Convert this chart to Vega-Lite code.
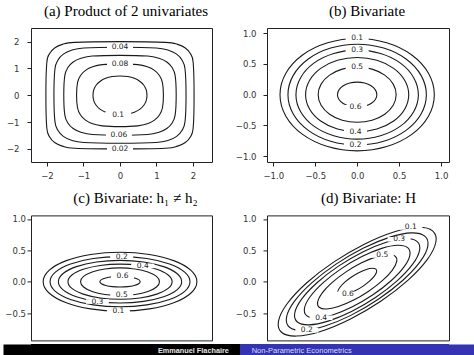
{
"$schema":"https://vega.github.io/schema/vega-lite/v6.json",
"autosize":{"type":"pad"},
"padding":{"left":0,"top":3,"right":0,"bottom":0},
"background":"white",
"config":{
 "view":{"stroke":"#222","strokeWidth":1},
 "axis":{"grid":false,"domain":false,"ticks":true,"tickSize":4,"tickColor":"#222","tickWidth":1,"labelFont":"DejaVu Sans","labelFontSize":8.5,"labelColor":"#333","labelFlush":false,"labelOverlap":false,"labelBound":false},
 "axisX":{"labelPadding":5},
 "axisY":{"labelPadding":7,"minExtent":0},
 "title":{"font":"Liberation Serif","fontSize":15,"fontWeight":"normal","color":"#000","anchor":"middle","frame":"group","baseline":"alphabetic","offset":9}
},
"datasets":{
"ca":[
{"c":"0.02","o":0,"x":2.03,"y":0},{"c":"0.02","o":1,"x":2.005,"y":1.223},{"c":"0.02","o":2,"x":1.927,"y":1.555},{"c":"0.02","o":3,"x":1.79,"y":1.763},{"c":"0.02","o":4,"x":1.578,"y":1.898},{"c":"0.02","o":5,"x":1.242,"y":1.975},{"c":"0.02","o":6,"x":0,"y":2.0},{"c":"0.02","o":7,"x":-1.242,"y":1.975},{"c":"0.02","o":8,"x":-1.578,"y":1.898},{"c":"0.02","o":9,"x":-1.79,"y":1.763},{"c":"0.02","o":10,"x":-1.927,"y":1.555},{"c":"0.02","o":11,"x":-2.005,"y":1.223},{"c":"0.02","o":12,"x":-2.03,"y":0},{"c":"0.02","o":13,"x":-2.005,"y":-1.223},{"c":"0.02","o":14,"x":-1.927,"y":-1.555},{"c":"0.02","o":15,"x":-1.79,"y":-1.763},{"c":"0.02","o":16,"x":-1.578,"y":-1.898},{"c":"0.02","o":17,"x":-1.242,"y":-1.975},{"c":"0.02","o":18,"x":0,"y":-2.0},{"c":"0.02","o":19,"x":1.242,"y":-1.975},{"c":"0.02","o":20,"x":1.578,"y":-1.898},{"c":"0.02","o":21,"x":1.79,"y":-1.763},{"c":"0.02","o":22,"x":1.927,"y":-1.555},{"c":"0.02","o":23,"x":2.005,"y":-1.223},
{"c":"0.04","o":0,"x":1.81,"y":0},{"c":"0.04","o":1,"x":1.782,"y":0.982},{"c":"0.04","o":2,"x":1.698,"y":1.315},{"c":"0.04","o":3,"x":1.552,"y":1.534},{"c":"0.04","o":4,"x":1.33,"y":1.679},{"c":"0.04","o":5,"x":0.993,"y":1.763},{"c":"0.04","o":6,"x":0,"y":1.79},{"c":"0.04","o":7,"x":-0.993,"y":1.763},{"c":"0.04","o":8,"x":-1.33,"y":1.679},{"c":"0.04","o":9,"x":-1.552,"y":1.534},{"c":"0.04","o":10,"x":-1.698,"y":1.315},{"c":"0.04","o":11,"x":-1.782,"y":0.982},{"c":"0.04","o":12,"x":-1.81,"y":0},{"c":"0.04","o":13,"x":-1.782,"y":-0.982},{"c":"0.04","o":14,"x":-1.698,"y":-1.315},{"c":"0.04","o":15,"x":-1.552,"y":-1.534},{"c":"0.04","o":16,"x":-1.33,"y":-1.679},{"c":"0.04","o":17,"x":-0.993,"y":-1.763},{"c":"0.04","o":18,"x":0,"y":-1.79},{"c":"0.04","o":19,"x":0.993,"y":-1.763},{"c":"0.04","o":20,"x":1.33,"y":-1.679},{"c":"0.04","o":21,"x":1.552,"y":-1.534},{"c":"0.04","o":22,"x":1.698,"y":-1.315},{"c":"0.04","o":23,"x":1.782,"y":-0.982},
{"c":"0.06","o":0,"x":1.54,"y":0},{"c":"0.06","o":1,"x":1.512,"y":0.732},{"c":"0.06","o":2,"x":1.428,"y":1.034},{"c":"0.06","o":3,"x":1.283,"y":1.242},{"c":"0.06","o":4,"x":1.069,"y":1.381},{"c":"0.06","o":5,"x":0.756,"y":1.463},{"c":"0.06","o":6,"x":0,"y":1.49},{"c":"0.06","o":7,"x":-0.756,"y":1.463},{"c":"0.06","o":8,"x":-1.069,"y":1.381},{"c":"0.06","o":9,"x":-1.283,"y":1.242},{"c":"0.06","o":10,"x":-1.428,"y":1.034},{"c":"0.06","o":11,"x":-1.512,"y":0.732},{"c":"0.06","o":12,"x":-1.54,"y":0},{"c":"0.06","o":13,"x":-1.512,"y":-0.732},{"c":"0.06","o":14,"x":-1.428,"y":-1.034},{"c":"0.06","o":15,"x":-1.283,"y":-1.242},{"c":"0.06","o":16,"x":-1.069,"y":-1.381},{"c":"0.06","o":17,"x":-0.756,"y":-1.463},{"c":"0.06","o":18,"x":0,"y":-1.49},{"c":"0.06","o":19,"x":0.756,"y":-1.463},{"c":"0.06","o":20,"x":1.069,"y":-1.381},{"c":"0.06","o":21,"x":1.283,"y":-1.242},{"c":"0.06","o":22,"x":1.428,"y":-1.034},{"c":"0.06","o":23,"x":1.512,"y":-0.732},
{"c":"0.08","o":0,"x":1.19,"y":0},{"c":"0.08","o":1,"x":1.163,"y":0.475},{"c":"0.08","o":2,"x":1.081,"y":0.737},{"c":"0.08","o":3,"x":0.945,"y":0.929},{"c":"0.08","o":4,"x":0.75,"y":1.063},{"c":"0.08","o":5,"x":0.483,"y":1.143},{"c":"0.08","o":6,"x":0,"y":1.17},{"c":"0.08","o":7,"x":-0.483,"y":1.143},{"c":"0.08","o":8,"x":-0.75,"y":1.063},{"c":"0.08","o":9,"x":-0.945,"y":0.929},{"c":"0.08","o":10,"x":-1.081,"y":0.737},{"c":"0.08","o":11,"x":-1.163,"y":0.475},{"c":"0.08","o":12,"x":-1.19,"y":0},{"c":"0.08","o":13,"x":-1.163,"y":-0.475},{"c":"0.08","o":14,"x":-1.081,"y":-0.737},{"c":"0.08","o":15,"x":-0.945,"y":-0.929},{"c":"0.08","o":16,"x":-0.75,"y":-1.063},{"c":"0.08","o":17,"x":-0.483,"y":-1.143},{"c":"0.08","o":18,"x":0,"y":-1.17},{"c":"0.08","o":19,"x":0.483,"y":-1.143},{"c":"0.08","o":20,"x":0.75,"y":-1.063},{"c":"0.08","o":21,"x":0.945,"y":-0.929},{"c":"0.08","o":22,"x":1.081,"y":-0.737},{"c":"0.08","o":23,"x":1.163,"y":-0.475},
{"c":"0.1","o":0,"x":0.74,"y":0},{"c":"0.1","o":1,"x":0.717,"y":0.211},{"c":"0.1","o":2,"x":0.649,"y":0.383},{"c":"0.1","o":3,"x":0.54,"y":0.525},{"c":"0.1","o":4,"x":0.394,"y":0.632},{"c":"0.1","o":5,"x":0.217,"y":0.698},{"c":"0.1","o":6,"x":0,"y":0.72},{"c":"0.1","o":7,"x":-0.217,"y":0.698},{"c":"0.1","o":8,"x":-0.394,"y":0.632},{"c":"0.1","o":9,"x":-0.54,"y":0.525},{"c":"0.1","o":10,"x":-0.649,"y":0.383},{"c":"0.1","o":11,"x":-0.717,"y":0.211},{"c":"0.1","o":12,"x":-0.74,"y":0},{"c":"0.1","o":13,"x":-0.717,"y":-0.211},{"c":"0.1","o":14,"x":-0.649,"y":-0.383},{"c":"0.1","o":15,"x":-0.54,"y":-0.525},{"c":"0.1","o":16,"x":-0.394,"y":-0.632},{"c":"0.1","o":17,"x":-0.217,"y":-0.698},{"c":"0.1","o":18,"x":0,"y":-0.72},{"c":"0.1","o":19,"x":0.217,"y":-0.698},{"c":"0.1","o":20,"x":0.394,"y":-0.632},{"c":"0.1","o":21,"x":0.54,"y":-0.525},{"c":"0.1","o":22,"x":0.649,"y":-0.383},{"c":"0.1","o":23,"x":0.717,"y":-0.211}
],
"cb":[
{"c":"0.1","o":0,"x":0.92,"y":0},{"c":"0.1","o":1,"x":0.85,"y":0.35},{"c":"0.1","o":2,"x":0.651,"y":0.647},{"c":"0.1","o":3,"x":0.352,"y":0.845},{"c":"0.1","o":4,"x":0,"y":0.915},{"c":"0.1","o":5,"x":-0.352,"y":0.845},{"c":"0.1","o":6,"x":-0.651,"y":0.647},{"c":"0.1","o":7,"x":-0.85,"y":0.35},{"c":"0.1","o":8,"x":-0.92,"y":0},{"c":"0.1","o":9,"x":-0.85,"y":-0.35},{"c":"0.1","o":10,"x":-0.651,"y":-0.647},{"c":"0.1","o":11,"x":-0.352,"y":-0.845},{"c":"0.1","o":12,"x":0,"y":-0.915},{"c":"0.1","o":13,"x":0.352,"y":-0.845},{"c":"0.1","o":14,"x":0.651,"y":-0.647},{"c":"0.1","o":15,"x":0.85,"y":-0.35},
{"c":"0.2","o":0,"x":0.825,"y":0},{"c":"0.2","o":1,"x":0.762,"y":0.314},{"c":"0.2","o":2,"x":0.583,"y":0.581},{"c":"0.2","o":3,"x":0.316,"y":0.759},{"c":"0.2","o":4,"x":0,"y":0.821},{"c":"0.2","o":5,"x":-0.316,"y":0.759},{"c":"0.2","o":6,"x":-0.583,"y":0.581},{"c":"0.2","o":7,"x":-0.762,"y":0.314},{"c":"0.2","o":8,"x":-0.825,"y":0},{"c":"0.2","o":9,"x":-0.762,"y":-0.314},{"c":"0.2","o":10,"x":-0.583,"y":-0.581},{"c":"0.2","o":11,"x":-0.316,"y":-0.759},{"c":"0.2","o":12,"x":0,"y":-0.821},{"c":"0.2","o":13,"x":0.316,"y":-0.759},{"c":"0.2","o":14,"x":0.583,"y":-0.581},{"c":"0.2","o":15,"x":0.762,"y":-0.314},
{"c":"0.3","o":0,"x":0.73,"y":0},{"c":"0.3","o":1,"x":0.674,"y":0.277},{"c":"0.3","o":2,"x":0.516,"y":0.513},{"c":"0.3","o":3,"x":0.279,"y":0.67},{"c":"0.3","o":4,"x":0,"y":0.725},{"c":"0.3","o":5,"x":-0.279,"y":0.67},{"c":"0.3","o":6,"x":-0.516,"y":0.513},{"c":"0.3","o":7,"x":-0.674,"y":0.277},{"c":"0.3","o":8,"x":-0.73,"y":0},{"c":"0.3","o":9,"x":-0.674,"y":-0.277},{"c":"0.3","o":10,"x":-0.516,"y":-0.513},{"c":"0.3","o":11,"x":-0.279,"y":-0.67},{"c":"0.3","o":12,"x":0,"y":-0.725},{"c":"0.3","o":13,"x":0.279,"y":-0.67},{"c":"0.3","o":14,"x":0.516,"y":-0.513},{"c":"0.3","o":15,"x":0.674,"y":-0.277},
{"c":"0.4","o":0,"x":0.615,"y":0},{"c":"0.4","o":1,"x":0.568,"y":0.232},{"c":"0.4","o":2,"x":0.435,"y":0.429},{"c":"0.4","o":3,"x":0.235,"y":0.56},{"c":"0.4","o":4,"x":0,"y":0.606},{"c":"0.4","o":5,"x":-0.235,"y":0.56},{"c":"0.4","o":6,"x":-0.435,"y":0.429},{"c":"0.4","o":7,"x":-0.568,"y":0.232},{"c":"0.4","o":8,"x":-0.615,"y":0},{"c":"0.4","o":9,"x":-0.568,"y":-0.232},{"c":"0.4","o":10,"x":-0.435,"y":-0.429},{"c":"0.4","o":11,"x":-0.235,"y":-0.56},{"c":"0.4","o":12,"x":0,"y":-0.606},{"c":"0.4","o":13,"x":0.235,"y":-0.56},{"c":"0.4","o":14,"x":0.435,"y":-0.429},{"c":"0.4","o":15,"x":0.568,"y":-0.232},
{"c":"0.5","o":0,"x":0.465,"y":0},{"c":"0.5","o":1,"x":0.43,"y":0.172},{"c":"0.5","o":2,"x":0.329,"y":0.318},{"c":"0.5","o":3,"x":0.178,"y":0.416},{"c":"0.5","o":4,"x":0,"y":0.45},{"c":"0.5","o":5,"x":-0.178,"y":0.416},{"c":"0.5","o":6,"x":-0.329,"y":0.318},{"c":"0.5","o":7,"x":-0.43,"y":0.172},{"c":"0.5","o":8,"x":-0.465,"y":0},{"c":"0.5","o":9,"x":-0.43,"y":-0.172},{"c":"0.5","o":10,"x":-0.329,"y":-0.318},{"c":"0.5","o":11,"x":-0.178,"y":-0.416},{"c":"0.5","o":12,"x":0,"y":-0.45},{"c":"0.5","o":13,"x":0.178,"y":-0.416},{"c":"0.5","o":14,"x":0.329,"y":-0.318},{"c":"0.5","o":15,"x":0.43,"y":-0.172},
{"c":"0.6","o":0,"x":0.235,"y":0},{"c":"0.6","o":1,"x":0.217,"y":0.078},{"c":"0.6","o":2,"x":0.166,"y":0.145},{"c":"0.6","o":3,"x":0.09,"y":0.189},{"c":"0.6","o":4,"x":0,"y":0.205},{"c":"0.6","o":5,"x":-0.09,"y":0.189},{"c":"0.6","o":6,"x":-0.166,"y":0.145},{"c":"0.6","o":7,"x":-0.217,"y":0.078},{"c":"0.6","o":8,"x":-0.235,"y":0},{"c":"0.6","o":9,"x":-0.217,"y":-0.078},{"c":"0.6","o":10,"x":-0.166,"y":-0.145},{"c":"0.6","o":11,"x":-0.09,"y":-0.189},{"c":"0.6","o":12,"x":0,"y":-0.205},{"c":"0.6","o":13,"x":0.09,"y":-0.189},{"c":"0.6","o":14,"x":0.166,"y":-0.145},{"c":"0.6","o":15,"x":0.217,"y":-0.078}
],
"cc":[
{"c":"0.1","o":0,"x":0.915,"y":0},{"c":"0.1","o":1,"x":0.845,"y":0.18},{"c":"0.1","o":2,"x":0.647,"y":0.332},{"c":"0.1","o":3,"x":0.35,"y":0.434},{"c":"0.1","o":4,"x":0,"y":0.47},{"c":"0.1","o":5,"x":-0.35,"y":0.434},{"c":"0.1","o":6,"x":-0.647,"y":0.332},{"c":"0.1","o":7,"x":-0.845,"y":0.18},{"c":"0.1","o":8,"x":-0.915,"y":0},{"c":"0.1","o":9,"x":-0.845,"y":-0.18},{"c":"0.1","o":10,"x":-0.647,"y":-0.332},{"c":"0.1","o":11,"x":-0.35,"y":-0.434},{"c":"0.1","o":12,"x":0,"y":-0.47},{"c":"0.1","o":13,"x":0.35,"y":-0.434},{"c":"0.1","o":14,"x":0.647,"y":-0.332},{"c":"0.1","o":15,"x":0.845,"y":-0.18},
{"c":"0.2","o":0,"x":0.833,"y":0},{"c":"0.2","o":1,"x":0.77,"y":0.153},{"c":"0.2","o":2,"x":0.589,"y":0.283},{"c":"0.2","o":3,"x":0.319,"y":0.37},{"c":"0.2","o":4,"x":0,"y":0.4},{"c":"0.2","o":5,"x":-0.319,"y":0.37},{"c":"0.2","o":6,"x":-0.589,"y":0.283},{"c":"0.2","o":7,"x":-0.77,"y":0.153},{"c":"0.2","o":8,"x":-0.833,"y":0},{"c":"0.2","o":9,"x":-0.77,"y":-0.153},{"c":"0.2","o":10,"x":-0.589,"y":-0.283},{"c":"0.2","o":11,"x":-0.319,"y":-0.37},{"c":"0.2","o":12,"x":0,"y":-0.4},{"c":"0.2","o":13,"x":0.319,"y":-0.37},{"c":"0.2","o":14,"x":0.589,"y":-0.283},{"c":"0.2","o":15,"x":0.77,"y":-0.153},
{"c":"0.3","o":0,"x":0.734,"y":0},{"c":"0.3","o":1,"x":0.678,"y":0.13},{"c":"0.3","o":2,"x":0.519,"y":0.24},{"c":"0.3","o":3,"x":0.281,"y":0.314},{"c":"0.3","o":4,"x":0,"y":0.34},{"c":"0.3","o":5,"x":-0.281,"y":0.314},{"c":"0.3","o":6,"x":-0.519,"y":0.24},{"c":"0.3","o":7,"x":-0.678,"y":0.13},{"c":"0.3","o":8,"x":-0.734,"y":0},{"c":"0.3","o":9,"x":-0.678,"y":-0.13},{"c":"0.3","o":10,"x":-0.519,"y":-0.24},{"c":"0.3","o":11,"x":-0.281,"y":-0.314},{"c":"0.3","o":12,"x":0,"y":-0.34},{"c":"0.3","o":13,"x":0.281,"y":-0.314},{"c":"0.3","o":14,"x":0.519,"y":-0.24},{"c":"0.3","o":15,"x":0.678,"y":-0.13},
{"c":"0.4","o":0,"x":0.62,"y":0},{"c":"0.4","o":1,"x":0.573,"y":0.107},{"c":"0.4","o":2,"x":0.438,"y":0.198},{"c":"0.4","o":3,"x":0.237,"y":0.259},{"c":"0.4","o":4,"x":0,"y":0.28},{"c":"0.4","o":5,"x":-0.237,"y":0.259},{"c":"0.4","o":6,"x":-0.438,"y":0.198},{"c":"0.4","o":7,"x":-0.573,"y":0.107},{"c":"0.4","o":8,"x":-0.62,"y":0},{"c":"0.4","o":9,"x":-0.573,"y":-0.107},{"c":"0.4","o":10,"x":-0.438,"y":-0.198},{"c":"0.4","o":11,"x":-0.237,"y":-0.259},{"c":"0.4","o":12,"x":0,"y":-0.28},{"c":"0.4","o":13,"x":0.237,"y":-0.259},{"c":"0.4","o":14,"x":0.438,"y":-0.198},{"c":"0.4","o":15,"x":0.573,"y":-0.107},
{"c":"0.5","o":0,"x":0.47,"y":0},{"c":"0.5","o":1,"x":0.434,"y":0.084},{"c":"0.5","o":2,"x":0.332,"y":0.156},{"c":"0.5","o":3,"x":0.18,"y":0.203},{"c":"0.5","o":4,"x":0,"y":0.22},{"c":"0.5","o":5,"x":-0.18,"y":0.203},{"c":"0.5","o":6,"x":-0.332,"y":0.156},{"c":"0.5","o":7,"x":-0.434,"y":0.084},{"c":"0.5","o":8,"x":-0.47,"y":0},{"c":"0.5","o":9,"x":-0.434,"y":-0.084},{"c":"0.5","o":10,"x":-0.332,"y":-0.156},{"c":"0.5","o":11,"x":-0.18,"y":-0.203},{"c":"0.5","o":12,"x":0,"y":-0.22},{"c":"0.5","o":13,"x":0.18,"y":-0.203},{"c":"0.5","o":14,"x":0.332,"y":-0.156},{"c":"0.5","o":15,"x":0.434,"y":-0.084},
{"c":"0.6","o":0,"x":0.24,"y":0},{"c":"0.6","o":1,"x":0.222,"y":0.033},{"c":"0.6","o":2,"x":0.17,"y":0.06},{"c":"0.6","o":3,"x":0.092,"y":0.079},{"c":"0.6","o":4,"x":0,"y":0.085},{"c":"0.6","o":5,"x":-0.092,"y":0.079},{"c":"0.6","o":6,"x":-0.17,"y":0.06},{"c":"0.6","o":7,"x":-0.222,"y":0.033},{"c":"0.6","o":8,"x":-0.24,"y":0},{"c":"0.6","o":9,"x":-0.222,"y":-0.033},{"c":"0.6","o":10,"x":-0.17,"y":-0.06},{"c":"0.6","o":11,"x":-0.092,"y":-0.079},{"c":"0.6","o":12,"x":0,"y":-0.085},{"c":"0.6","o":13,"x":0.092,"y":-0.079},{"c":"0.6","o":14,"x":0.17,"y":-0.06},{"c":"0.6","o":15,"x":0.222,"y":-0.033}
],
"cd":[
{"c":"0.1","o":0,"x":0.899,"y":0.81},{"c":"0.1","o":1,"x":0.723,"y":0.867},{"c":"0.1","o":2,"x":0.437,"y":0.793},{"c":"0.1","o":3,"x":0.085,"y":0.598},{"c":"0.1","o":4,"x":-0.281,"y":0.312},{"c":"0.1","o":5,"x":-0.604,"y":-0.021},{"c":"0.1","o":6,"x":-0.835,"y":-0.352},{"c":"0.1","o":7,"x":-0.938,"y":-0.629},{"c":"0.1","o":8,"x":-0.899,"y":-0.81},{"c":"0.1","o":9,"x":-0.723,"y":-0.867},{"c":"0.1","o":10,"x":-0.437,"y":-0.793},{"c":"0.1","o":11,"x":-0.085,"y":-0.598},{"c":"0.1","o":12,"x":0.281,"y":-0.312},{"c":"0.1","o":13,"x":0.604,"y":0.021},{"c":"0.1","o":14,"x":0.835,"y":0.352},{"c":"0.1","o":15,"x":0.938,"y":0.629},
{"c":"0.2","o":0,"x":0.806,"y":0.726},{"c":"0.2","o":1,"x":0.648,"y":0.778},{"c":"0.2","o":2,"x":0.392,"y":0.711},{"c":"0.2","o":3,"x":0.076,"y":0.537},{"c":"0.2","o":4,"x":-0.252,"y":0.28},{"c":"0.2","o":5,"x":-0.542,"y":-0.019},{"c":"0.2","o":6,"x":-0.749,"y":-0.315},{"c":"0.2","o":7,"x":-0.842,"y":-0.564},{"c":"0.2","o":8,"x":-0.806,"y":-0.726},{"c":"0.2","o":9,"x":-0.648,"y":-0.778},{"c":"0.2","o":10,"x":-0.392,"y":-0.711},{"c":"0.2","o":11,"x":-0.076,"y":-0.537},{"c":"0.2","o":12,"x":0.252,"y":-0.28},{"c":"0.2","o":13,"x":0.542,"y":0.019},{"c":"0.2","o":14,"x":0.749,"y":0.315},{"c":"0.2","o":15,"x":0.842,"y":0.564},
{"c":"0.3","o":0,"x":0.713,"y":0.642},{"c":"0.3","o":1,"x":0.574,"y":0.688},{"c":"0.3","o":2,"x":0.347,"y":0.629},{"c":"0.3","o":3,"x":0.067,"y":0.475},{"c":"0.3","o":4,"x":-0.223,"y":0.248},{"c":"0.3","o":5,"x":-0.479,"y":-0.017},{"c":"0.3","o":6,"x":-0.662,"y":-0.279},{"c":"0.3","o":7,"x":-0.744,"y":-0.499},{"c":"0.3","o":8,"x":-0.713,"y":-0.642},{"c":"0.3","o":9,"x":-0.574,"y":-0.688},{"c":"0.3","o":10,"x":-0.347,"y":-0.629},{"c":"0.3","o":11,"x":-0.067,"y":-0.475},{"c":"0.3","o":12,"x":0.223,"y":-0.248},{"c":"0.3","o":13,"x":0.479,"y":0.017},{"c":"0.3","o":14,"x":0.662,"y":0.279},{"c":"0.3","o":15,"x":0.744,"y":0.499},
{"c":"0.4","o":0,"x":0.602,"y":0.542},{"c":"0.4","o":1,"x":0.484,"y":0.581},{"c":"0.4","o":2,"x":0.293,"y":0.531},{"c":"0.4","o":3,"x":0.057,"y":0.4},{"c":"0.4","o":4,"x":-0.188,"y":0.209},{"c":"0.4","o":5,"x":-0.404,"y":-0.015},{"c":"0.4","o":6,"x":-0.559,"y":-0.236},{"c":"0.4","o":7,"x":-0.628,"y":-0.421},{"c":"0.4","o":8,"x":-0.602,"y":-0.542},{"c":"0.4","o":9,"x":-0.484,"y":-0.581},{"c":"0.4","o":10,"x":-0.293,"y":-0.531},{"c":"0.4","o":11,"x":-0.057,"y":-0.4},{"c":"0.4","o":12,"x":0.188,"y":-0.209},{"c":"0.4","o":13,"x":0.404,"y":0.015},{"c":"0.4","o":14,"x":0.559,"y":0.236},{"c":"0.4","o":15,"x":0.628,"y":0.421},
{"c":"0.5","o":0,"x":0.453,"y":0.408},{"c":"0.5","o":1,"x":0.366,"y":0.435},{"c":"0.5","o":2,"x":0.224,"y":0.396},{"c":"0.5","o":3,"x":0.047,"y":0.297},{"c":"0.5","o":4,"x":-0.137,"y":0.152},{"c":"0.5","o":5,"x":-0.3,"y":-0.016},{"c":"0.5","o":6,"x":-0.418,"y":-0.181},{"c":"0.5","o":7,"x":-0.471,"y":-0.319},{"c":"0.5","o":8,"x":-0.453,"y":-0.408},{"c":"0.5","o":9,"x":-0.366,"y":-0.435},{"c":"0.5","o":10,"x":-0.224,"y":-0.396},{"c":"0.5","o":11,"x":-0.047,"y":-0.297},{"c":"0.5","o":12,"x":0.137,"y":-0.152},{"c":"0.5","o":13,"x":0.3,"y":0.016},{"c":"0.5","o":14,"x":0.418,"y":0.181},{"c":"0.5","o":15,"x":0.471,"y":0.319},
{"c":"0.6","o":0,"x":0.223,"y":0.201},{"c":"0.6","o":1,"x":0.18,"y":0.214},{"c":"0.6","o":2,"x":0.11,"y":0.195},{"c":"0.6","o":3,"x":0.024,"y":0.145},{"c":"0.6","o":4,"x":-0.067,"y":0.074},{"c":"0.6","o":5,"x":-0.147,"y":-0.008},{"c":"0.6","o":6,"x":-0.205,"y":-0.089},{"c":"0.6","o":7,"x":-0.232,"y":-0.157},{"c":"0.6","o":8,"x":-0.223,"y":-0.201},{"c":"0.6","o":9,"x":-0.18,"y":-0.214},{"c":"0.6","o":10,"x":-0.11,"y":-0.195},{"c":"0.6","o":11,"x":-0.024,"y":-0.145},{"c":"0.6","o":12,"x":0.067,"y":-0.074},{"c":"0.6","o":13,"x":0.147,"y":0.008},{"c":"0.6","o":14,"x":0.205,"y":0.089},{"c":"0.6","o":15,"x":0.232,"y":0.157}
],
"la":[{"l":"0.04","x":0,"y":1.79},{"l":"0.08","x":0,"y":1.17},{"l":"0.1","x":-0.05,"y":-0.72},{"l":"0.06","x":-0.03,"y":-1.49},{"l":"0.02","x":0,"y":-2.0}],
"lb":[{"l":"0.1","x":0,"y":0.915},{"l":"0.3","x":0,"y":0.725},{"l":"0.5","x":0,"y":0.45},{"l":"0.6","x":-0.02,"y":-0.205},{"l":"0.4","x":-0.02,"y":-0.606},{"l":"0.2","x":-0.02,"y":-0.821}],
"lc":[{"l":"0.2","x":0.02,"y":0.4},{"l":"0.4","x":0.27,"y":0.252},{"l":"0.6","x":0.03,"y":0.085},{"l":"0.5","x":0.02,"y":-0.22},{"l":"0.3","x":-0.27,"y":-0.316},{"l":"0.1","x":-0.02,"y":-0.47}],
"ld":[{"l":"0.1","x":0.64,"y":0.865},{"l":"0.3","x":0.5,"y":0.675},{"l":"0.5","x":0.3,"y":0.418},{"l":"0.6","x":-0.11,"y":-0.195},{"l":"0.4","x":-0.43,"y":-0.575},{"l":"0.2","x":-0.6,"y":-0.775}],
"footer":[{"part":"left","t":"Emmanuel Flachaire"},{"part":"right","t":"Non-Parametric Econometrics"}]
},
"concat":[
 {"concat":[
   {"width":181,"height":134,
    "title":{"text":"(a) Product of 2 univariates","dx":4.5},
    "encoding":{
     "x":{"field":"x","type":"quantitative","scale":{"domain":[-2.438,2.521],"nice":false,"zero":false},"axis":{"values":[-2,-1,0,1,2],"format":"d","title":null}},
     "y":{"field":"y","type":"quantitative","scale":{"domain":[-2.49,2.51],"nice":false,"zero":false},"axis":{"values":[-2,-1,0,1,2],"format":"d","title":null,"labelPadding":8}}},
    "layer":[
     {"data":{"name":"ca"},"mark":{"type":"line","interpolate":"cardinal-closed","color":"#1a1a1a","strokeWidth":1.1},"encoding":{"detail":{"field":"c"},"order":{"field":"o","type":"quantitative"}}},
     {"data":{"name":"la"},"mark":{"type":"point","shape":"M-1,-0.2H1V0.2H-1Z","filled":true,"color":"white","opacity":1,"size":676}},
     {"data":{"name":"la"},"mark":{"type":"text","font":"DejaVu Sans","fontSize":7.5,"color":"#222"},"encoding":{"text":{"field":"l"}}}
    ]},
   {"width":182,"height":134,
    "title":{"text":"(b) Bivariate","dx":9},
    "encoding":{
     "x":{"field":"x","type":"quantitative","scale":{"domain":[-1.075,1.095],"nice":false,"zero":false},"axis":{"values":[-1,-0.5,0,0.5,1],"format":".1f","title":null}},
     "y":{"field":"y","type":"quantitative","scale":{"domain":[-1.097,1.086],"nice":false,"zero":false},"axis":{"values":[-1,-0.5,0,0.5,1],"format":".1f","title":null}}},
    "layer":[
     {"data":{"name":"cb"},"mark":{"type":"line","interpolate":"cardinal-closed","color":"#1a1a1a","strokeWidth":1.1},"encoding":{"detail":{"field":"c"},"order":{"field":"o","type":"quantitative"}}},
     {"data":{"name":"lb"},"mark":{"type":"point","shape":"M-1,-0.2H1V0.2H-1Z","filled":true,"color":"white","opacity":1,"size":529}},
     {"data":{"name":"lb"},"mark":{"type":"text","font":"DejaVu Sans","fontSize":7.5,"color":"#222"},"encoding":{"text":{"field":"l"}}}
    ]},
   {"width":181,"height":125,
    "title":{"text":"(c) Bivariate: h₁ ≠ h₂","dx":14},
    "encoding":{
     "x":{"field":"x","type":"quantitative","scale":{"domain":[-1.06,1.095],"nice":false,"zero":false},"axis":null},
     "y":{"field":"y","type":"quantitative","scale":{"domain":[-0.936,1.057],"nice":false,"zero":false},"axis":{"values":[-0.5,0,0.5,1],"format":".1f","title":null,"labelPadding":1.5}}},
    "layer":[
     {"data":{"name":"cc"},"mark":{"type":"line","interpolate":"cardinal-closed","color":"#1a1a1a","strokeWidth":1.1},"encoding":{"detail":{"field":"c"},"order":{"field":"o","type":"quantitative"}}},
     {"data":{"name":"lc"},"mark":{"type":"point","shape":"M-1,-0.2H1V0.2H-1Z","filled":true,"color":"white","opacity":1,"size":529}},
     {"data":{"name":"lc"},"mark":{"type":"text","font":"DejaVu Sans","fontSize":7.5,"color":"#222"},"encoding":{"text":{"field":"l"}}}
    ]},
   {"width":182,"height":125,
    "title":{"text":"(d) Bivariate: H","dx":10.5},
    "encoding":{
     "x":{"field":"x","type":"quantitative","scale":{"domain":[-1.075,1.095],"nice":false,"zero":false},"axis":null},
     "y":{"field":"y","type":"quantitative","scale":{"domain":[-0.936,1.057],"nice":false,"zero":false},"axis":{"values":[-0.5,0,0.5,1],"format":".1f","title":null}}},
    "layer":[
     {"data":{"name":"cd"},"mark":{"type":"line","interpolate":"cardinal-closed","color":"#1a1a1a","strokeWidth":1.1},"encoding":{"detail":{"field":"c"},"order":{"field":"o","type":"quantitative"}}},
     {"data":{"name":"ld"},"mark":{"type":"point","shape":"M-1,-0.2H1V0.2H-1Z","filled":true,"color":"white","opacity":1,"size":529}},
     {"data":{"name":"ld"},"mark":{"type":"text","font":"DejaVu Sans","fontSize":7.5,"color":"#222"},"encoding":{"text":{"field":"l"}}}
    ]}
  ],"columns":2,"align":"each","spacing":{"row":10.4,"column":21}},
 {"width":418,"height":14,
  "data":{"name":"footer"},
  "view":{"stroke":null},
  "encoding":{"x":{"field":"part","type":"nominal","scale":{"paddingInner":0,"paddingOuter":0},"axis":null}},
  "layer":[
   {"mark":{"type":"rect"},"encoding":{
     "y":{"datum":"footer","type":"nominal","scale":{"paddingInner":0,"paddingOuter":0},"axis":{"orient":"left","title":null,"labels":false,"domain":false,"ticks":true,"tickSize":21,"tickWidth":14,"tickColor":"#000000","tickCap":"square","labelPadding":0,"minExtent":0}},
     "color":{"field":"part","type":"nominal","scale":{"domain":["left","right"],"range":["#000000","#3333b3"]},"legend":null}}},
   {"transform":[{"filter":"datum.part == 'left'"}],"mark":{"type":"text","align":"right","font":"Liberation Sans","fontWeight":"bold","fontSize":7.3,"color":"#e6e6e6"},"encoding":{
     "y":{"datum":"footer","type":"nominal","axis":{"orient":"right","title":null,"labels":false,"domain":false,"ticks":true,"tickSize":21,"tickWidth":14,"tickColor":"#3333b3","tickCap":"square","labelPadding":0,"minExtent":0}},
     "x":{"field":"part","type":"nominal","bandPosition":0.947},"text":{"field":"t"}}},
   {"transform":[{"filter":"datum.part == 'right'"}],"mark":{"type":"text","align":"left","font":"Liberation Sans","fontSize":7.5,"color":"#dcdcf2"},"encoding":{
     "y":{"datum":"footer","type":"nominal","axis":null},
     "x":{"field":"part","type":"nominal","bandPosition":0.056},"text":{"field":"t"}}}
  ],
  "resolve":{"axis":{"y":"independent"}}}
],
"columns":1,"align":"none",
"spacing":0
}
